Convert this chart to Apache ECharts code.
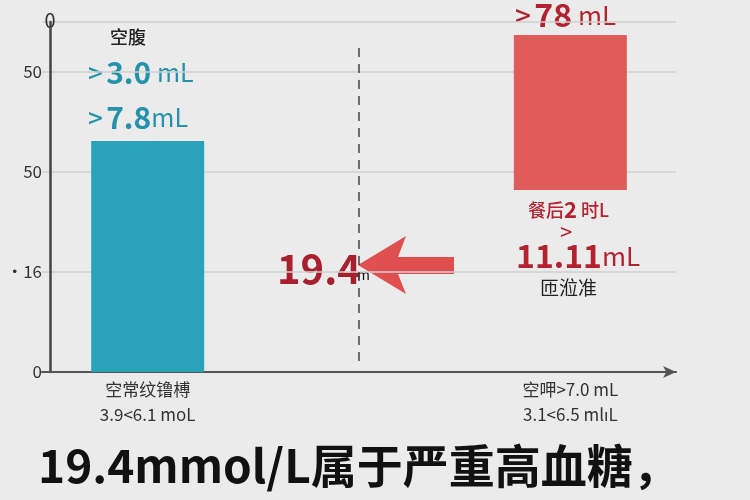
<!DOCTYPE html>
<html><head><meta charset="utf-8">
<script src="https://cdn.jsdelivr.net/npm/echarts@6/dist/echarts.min.js"></script>
<style>html,body{margin:0;padding:0;background:#ebebeb;}#c{width:750px;height:500px;}</style>
</head><body><div id="c"></div>
<script>
var categories = ['空常纹镥榑\n3.9<6.1 moL', '', '空呷>7.0 mL\n3.1<6.5 mlıL'];
var tealValues = [2.31, null, null];
var redBase = [null, null, 1.82];
var redValues = [null, null, 1.55];
var yTickLabels = ['0', '·16', '50', '50'];
var titleText = '19.4mmol/L属于严重高血糖，';

var chart = echarts.init(document.getElementById('c'));
var F = '"Noto Sans CJK SC","Noto Sans",sans-serif';
var red = '#b3222f', teal = '#2592ab';
chart.setOption({
  backgroundColor: '#ebebeb',
  animation: false,
  grid: {left: 42, right: 74, top: 22, bottom: 128},
  xAxis: {
    type: 'category', data: categories,
    axisLine: {lineStyle: {color: '#555', width: 2}, symbol: ['none', 'arrow'], symbolSize: [9, 13]},
    axisTick: {show: false},
    axisLabel: {color: '#333', fontSize: 17, lineHeight: 25, margin: 5, fontFamily: F}
  },
  yAxis: {
    type: 'value', min: 0, max: 3.5, interval: 1,
    offset: -8,
    name: '0', nameGap: 2, nameTextStyle: {color: '#333', fontSize: 20, fontFamily: F, padding: [0, 0, -10, 0]},
    axisLine: {show: true, lineStyle: {color: '#444', width: 2.5}},
    axisTick: {show: false},
    splitLine: {lineStyle: {color: '#cfcfcf', width: 1.5}},
    axisLabel: {color: '#333', fontSize: 17, fontFamily: F, margin: 8,
      formatter: function (v) { return yTickLabels[Math.round(v)]; }}
  },
  series: [
    {type: 'bar', data: tealValues, barWidth: 113, barGap: '-100%', itemStyle: {color: '#2aa3ba'},
      markLine: {silent: true, symbol: 'none', label: {show: false},
        lineStyle: {color: '#444', type: [9, 7], width: 1.5},
        data: [[{xAxis: 1, yAxis: 3.24}, {xAxis: 1, yAxis: 0.07}]]}},
    {type: 'bar', stack: 'r', data: redBase, barWidth: 113, itemStyle: {color: 'transparent'}},
    {type: 'bar', stack: 'r', data: redValues, barWidth: 113, itemStyle: {color: '#e05c5b'}}
  ],
  graphic: [
    {type: 'text', left: 110, top: 28, style: {text: '空腹', fill: '#222', font: '500 18px ' + F}},
    {type: 'text', left: 88, top: 58, style: {
      text: '{a|>} {b|3.0}{c| mL}', rich: {
        a: {fill: teal, font: '500 26px ' + F}, b: {fill: teal, font: 'bold 30px ' + F}, c: {fill: teal, font: '25px ' + F}}}},
    {type: 'text', left: 88, top: 103, style: {
      text: '{a|>} {b|7.8}{c|mL}', rich: {
        a: {fill: teal, font: '500 26px ' + F}, b: {fill: teal, font: 'bold 30px ' + F}, c: {fill: teal, font: '25px ' + F}}}},
    {type: 'text', left: 515, top: -1, style: {
      text: '{a|>} {b|78}{c| mL}', rich: {
        a: {fill: red, font: '500 28px ' + F}, b: {fill: red, font: 'bold 32px ' + F}, c: {fill: red, font: '26px ' + F}}}},
    {type: 'text', left: 528, top: 199, style: {
      text: '{a|餐后}{b|2}{a| 时L}', rich: {
        a: {fill: red, font: '500 18px ' + F}, b: {fill: red, font: 'bold 22px ' + F}}}},
    {type: 'text', left: 560, top: 221, style: {text: '>', fill: red, font: '22px ' + F}},
    {type: 'text', left: 516, top: 240, style: {
      text: '{b|11.11}{c|mL}', rich: {
        b: {fill: red, font: 'bold 32px ' + F}, c: {fill: red, font: '26px ' + F}}}},
    {type: 'text', left: 540, top: 278, style: {text: '匝涖准', fill: '#222', font: '19px ' + F}},
    {type: 'polygon', shape: {points: [[358, 265], [406, 236], [398, 257], [454, 257], [454, 274], [398, 274], [406, 294]]},
      style: {fill: '#e04f50'}},
    {type: 'text', left: 277, top: 249, style: {text: '19.4', fill: '#a8202e', font: 'bold 40px ' + F}},
    {type: 'text', left: 357, top: 268, style: {text: 'm', fill: '#111', font: '14px ' + F}},
    {type: 'text', left: 38, top: 443, style: {text: titleText, fill: '#111', font: 'bold 46px ' + F}}
  ]
});
</script></body></html>
